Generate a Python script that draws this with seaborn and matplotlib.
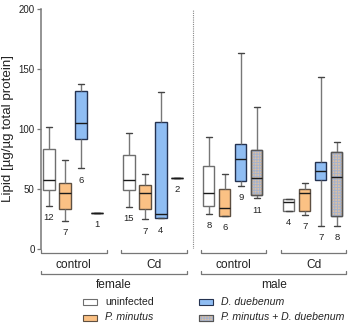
import numpy as np
import pandas as pd
import matplotlib
matplotlib.use("Agg")
import matplotlib.pyplot as plt
from matplotlib.patches import Rectangle, PathPatch
import seaborn as sns

# ---- data: five-number summaries per box (min whisker, Q1, median, Q3, max whisker)
sex = ["female"] * 8 + ["male"] * 8
treatment = (["control"] * 4 + ["Cd"] * 4) * 2
infection = ["uninfected", "P. minutus", "D. duebenum", "P. minutus + D. duebenum"] * 4
n_animals = [12, 7, 6, 1, 15, 7, 4, 2, 8, 6, 9, 11, 4, 7, 7, 8]
whisker_low = [36.0, 23.3, 67.2, 30.3, 35.3, 24.7, 25.6, 59.4,
               29.4, 27.5, 52.8, 42.2, 31.9, 28.3, 19.2, 19.4]
quartile_1 = [49.2, 33.0, 91.4, 30.3, 48.9, 33.3, 25.6, 59.4,
              35.8, 27.5, 56.4, 45.0, 31.9, 31.7, 57.2, 27.5]
median = [57.8, 47.0, 104.7, 30.3, 57.8, 46.4, 28.9, 59.4,
          46.4, 33.9, 74.7, 58.9, 39.4, 46.4, 65.0, 59.7]
quartile_3 = [83.0, 55.0, 132.0, 30.3, 78.3, 53.3, 105.6, 59.4,
              69.4, 50.0, 87.5, 82.8, 41.7, 49.7, 72.2, 81.0]
whisker_high = [102.0, 74.0, 137.5, 30.3, 96.4, 62.2, 131.0, 59.4,
                93.0, 62.2, 163.0, 118.6, 41.7, 54.7, 143.0, 88.9]

infection_levels = ["uninfected", "P. minutus", "D. duebenum", "P. minutus + D. duebenum"]
fills = {"uninfected": "#FFFFFF", "P. minutus": "#FBC184",
         "D. duebenum": "#8FBDF3", "P. minutus + D. duebenum": "#DCC0A4"}
edges = {"uninfected": "#6E6E6E", "P. minutus": "#5E5042",
         "D. duebenum": "#243250", "P. minutus + D. duebenum": "#555555"}
mix_hatch_color = "#A6B3CC"

# slot position of each box: four boxes per group, one empty slot between groups
group_start = {("female", "control"): 0, ("female", "Cd"): 5,
               ("male", "control"): 10, ("male", "Cd"): 15}
slots = [group_start[(s, t)] + infection_levels.index(i)
         for s, t, i in zip(sex, treatment, infection)]

rows = []
for k in range(len(slots)):
    for v in (whisker_low[k], quartile_1[k], median[k], quartile_3[k], whisker_high[k]):
        rows.append({"slot": str(slots[k]), "infection": infection[k], "lipid": v})
df = pd.DataFrame(rows)
slot_order = [str(i) for i in range(19)]

sns.set_style("ticks")
plt.rcParams["font.family"] = ["Liberation Sans", "DejaVu Sans"]
plt.rcParams["hatch.linewidth"] = 0.7

W, H = 355, 326
fig = plt.figure(figsize=(W / 100, H / 100), dpi=100)
ax = fig.add_axes([41 / W, 1 - 249 / H, (348 - 41) / W, 240 / H])

for level in infection_levels:
    sub = df[df["infection"] == level]
    before = len(ax.patches)
    sns.boxplot(data=sub, x="slot", y="lipid", order=slot_order, ax=ax,
                width=0.7, whis=(0, 100), color=fills[level], saturation=1,
                linecolor=edges[level], linewidth=1.0, showfliers=False,
                medianprops=dict(color="#1A1A1A", linewidth=1.0, zorder=4),
                whiskerprops=dict(color="#777777", linewidth=1.0),
                capprops=dict(color="#444444", linewidth=1.0))
    if level == "P. minutus + D. duebenum":
        # fine two-colour texture inside the mixed-infection boxes
        for p in list(ax.patches[before:]):
            tex = PathPatch(p.get_path(), transform=p.get_transform(),
                            facecolor="none", edgecolor=mix_hatch_color,
                            linewidth=0, hatch="++++++", zorder=p.get_zorder() + 0.1)
            ax.add_patch(tex)
            outline = PathPatch(p.get_path(), transform=p.get_transform(),
                                facecolor="none", edgecolor=edges[level],
                                linewidth=1.0, zorder=p.get_zorder() + 0.2)
            ax.add_patch(outline)

# sample sizes under the lower whiskers
for k in range(len(slots)):
    ax.annotate(str(n_animals[k]), xy=(slots[k], whisker_low[k]), xytext=(0, -8.6),
                textcoords="offset points", ha="center", va="center",
                fontsize=6.8, color="#222222")

# divider between sexes
ax.axvline(9, color="#888888", linestyle=(0, (1, 1)), linewidth=0.8)

ax.set_xlim(-0.5, 18.7)
ax.set_ylim(0, 200)
ax.set_yticks([0, 50, 100, 150, 200])
ax.set_xticks([])
ax.set_xlabel("")
ax.set_ylabel("Lipid [µg/µg total protein]", fontsize=9.6, color="#222222", labelpad=3)
ax.tick_params(axis="y", length=3, width=0.9, color="#777777", labelsize=7.0,
               labelcolor="#222222", pad=1.5)
for side in ["top", "right", "bottom"]:
    ax.spines[side].set_visible(False)
ax.spines["left"].set_color("#777777")
ax.spines["left"].set_linewidth(1.1)

# group brackets below the axis
tr = ax.get_xaxis_transform()
def bracket(x0, x1, y, label, ly, size):
    ax.plot([x0, x0, x1, x1], [y + 0.013, y, y, y + 0.013], transform=tr,
            color="#777777", linewidth=0.9, clip_on=False)
    ax.text((x0 + x1) / 2, ly, label, transform=tr, ha="center", va="center",
            fontsize=size, color="#222222")

for (s, t), start in group_start.items():
    bracket(start - 0.5, start + 3.6, -0.017, t, -0.067, 8.6)
bracket(-0.5, 8.65, -0.104, "female", -0.150, 8.6)
bracket(9.5, 18.6, -0.104, "male", -0.150, 8.6)

# legend
def px(x, y):
    return x / W, 1 - y / H

legend_items = [("uninfected", 83, 302, "normal"), ("P. minutus", 83, 317.5, "italic"),
                ("D. duebenum", 199, 302, "italic"),
                ("P. minutus + D. duebenum", 199, 317.5, "italic")]
for level, (lab, x, y, st) in zip(infection_levels, legend_items):
    x0, y0 = px(x, y + 3)
    r = Rectangle((x0, y0), 14 / W, 6 / H, transform=fig.transFigure,
                  facecolor=fills[level], edgecolor=edges[level], linewidth=0.8)
    fig.patches.append(r)
    if level == "P. minutus + D. duebenum":
        fig.patches.append(Rectangle((x0, y0), 14 / W, 6 / H, transform=fig.transFigure,
                                     facecolor="none", edgecolor=mix_hatch_color,
                                     linewidth=0, hatch="++++++"))
        fig.patches.append(Rectangle((x0, y0), 14 / W, 6 / H, transform=fig.transFigure,
                                     facecolor="none", edgecolor=edges[level],
                                     linewidth=0.8))
    tx, ty = px(x + 22, y)
    fig.text(tx, ty, lab, ha="left", va="center", fontsize=7.6, style=st, color="#222222")

fig.savefig("out.png", dpi=100)
